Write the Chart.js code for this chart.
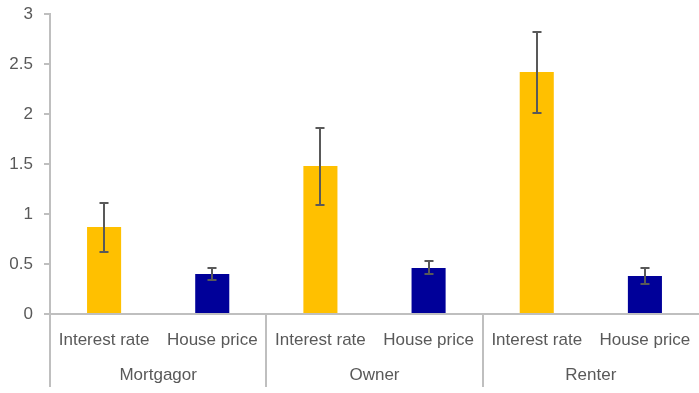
<!DOCTYPE html>
<html>
<head>
<meta charset="utf-8">
<script src="https://cdn.jsdelivr.net/npm/chart.js@4"></script>
<style>
  html, body { margin: 0; padding: 0; background: #fff; }
  #wrap { width: 699px; height: 393px; }
</style>
</head>
<body>
<div id="wrap"><canvas id="chart"></canvas></div>
<script>
// 数据
const categories = ['Interest rate', 'House price', 'Interest rate', 'House price', 'Interest rate', 'House price'];
const groups = ['Mortgagor', 'Owner', 'Renter'];
const values = [0.87, 0.40, 1.48, 0.46, 2.42, 0.38];
const errLow = [0.62, 0.34, 1.09, 0.40, 2.01, 0.30];
const errHigh = [1.11, 0.46, 1.86, 0.53, 2.82, 0.46];
const yTicks = [0, 0.5, 1, 1.5, 2, 2.5, 3];

const barColors = ['#FFC000', '#000099', '#FFC000', '#000099', '#FFC000', '#000099'];
const axisGray = '#BFBFBF';
const textGray = '#595959';
const fontFamily = '"Liberation Sans", Arial, sans-serif';

// 误差线 + 分组标签
const extrasPlugin = {
  id: 'extras',
  afterDatasetsDraw(chart) {
    const ctx = chart.ctx;
    const y = chart.scales.y;
    const meta = chart.getDatasetMeta(0);
    ctx.save();
    ctx.strokeStyle = '#595959';
    ctx.lineWidth = 2;
    meta.data.forEach((bar, i) => {
      const cx = Math.round(bar.x);
      const yHi = y.getPixelForValue(errHigh[i]);
      const yLo = y.getPixelForValue(errLow[i]);
      ctx.beginPath();
      ctx.moveTo(cx, yHi);
      ctx.lineTo(cx, yLo);
      ctx.moveTo(cx - 4.5, yHi);
      ctx.lineTo(cx + 4.5, yHi);
      ctx.moveTo(cx - 4.5, yLo);
      ctx.lineTo(cx + 4.5, yLo);
      ctx.stroke();
    });

    // 分隔线
    const area = chart.chartArea;
    const step = (area.right - area.left) / categories.length;
    ctx.strokeStyle = axisGray;
    ctx.lineWidth = 2;
    for (let g = 0; g < groups.length; g++) {
      const lx = Math.round(area.left + g * 2 * step);
      ctx.beginPath();
      ctx.moveTo(lx, area.bottom);
      ctx.lineTo(lx, 387);
      ctx.stroke();
    }

    // 分组标签
    ctx.fillStyle = textGray;
    ctx.font = '17px ' + fontFamily;
    ctx.textAlign = 'center';
    ctx.textBaseline = 'middle';
    groups.forEach((name, g) => {
      const gx = area.left + (g * 2 + 1) * step;
      ctx.fillText(name, gx, 375);
    });
    ctx.restore();
  }
};

new Chart(document.getElementById('chart').getContext('2d'), {
  type: 'bar',
  data: {
    labels: categories,
    datasets: [{
      data: values,
      backgroundColor: barColors,
      borderWidth: 0,
      barPercentage: 0.315,
      categoryPercentage: 1.0
    }]
  },
  options: {
    responsive: true,
    maintainAspectRatio: false,
    animation: false,
    layout: { padding: { top: 0, right: 0, left: 0, bottom: 0 } },
    plugins: {
      legend: { display: false },
      tooltip: { enabled: false }
    },
    scales: {
      x: {
        grid: { display: false },
        border: { display: true, color: axisGray, width: 2 },
        ticks: {
          color: textGray,
          font: { size: 17, family: fontFamily },
          padding: 8,
          maxRotation: 0
        },
        afterFit(scale) { scale.height = 79; }
      },
      y: {
        min: 0,
        max: 3,
        afterBuildTicks(scale) { scale.ticks = yTicks.map(v => ({ value: v })); },
        grid: {
          drawOnChartArea: false,
          drawTicks: true,
          tickLength: 6,
          color: axisGray,
          lineWidth: 2
        },
        border: { display: true, color: axisGray, width: 2 },
        ticks: {
          color: textGray,
          font: { size: 17, family: fontFamily, lineHeight: 1 },
          padding: 11,
          callback: v => String(v)
        },
        afterFit(scale) {
          scale.width = 50;
          scale.paddingTop = 14;
        }
      }
    }
  },
  plugins: [extrasPlugin]
});
</script>
</body>
</html>
